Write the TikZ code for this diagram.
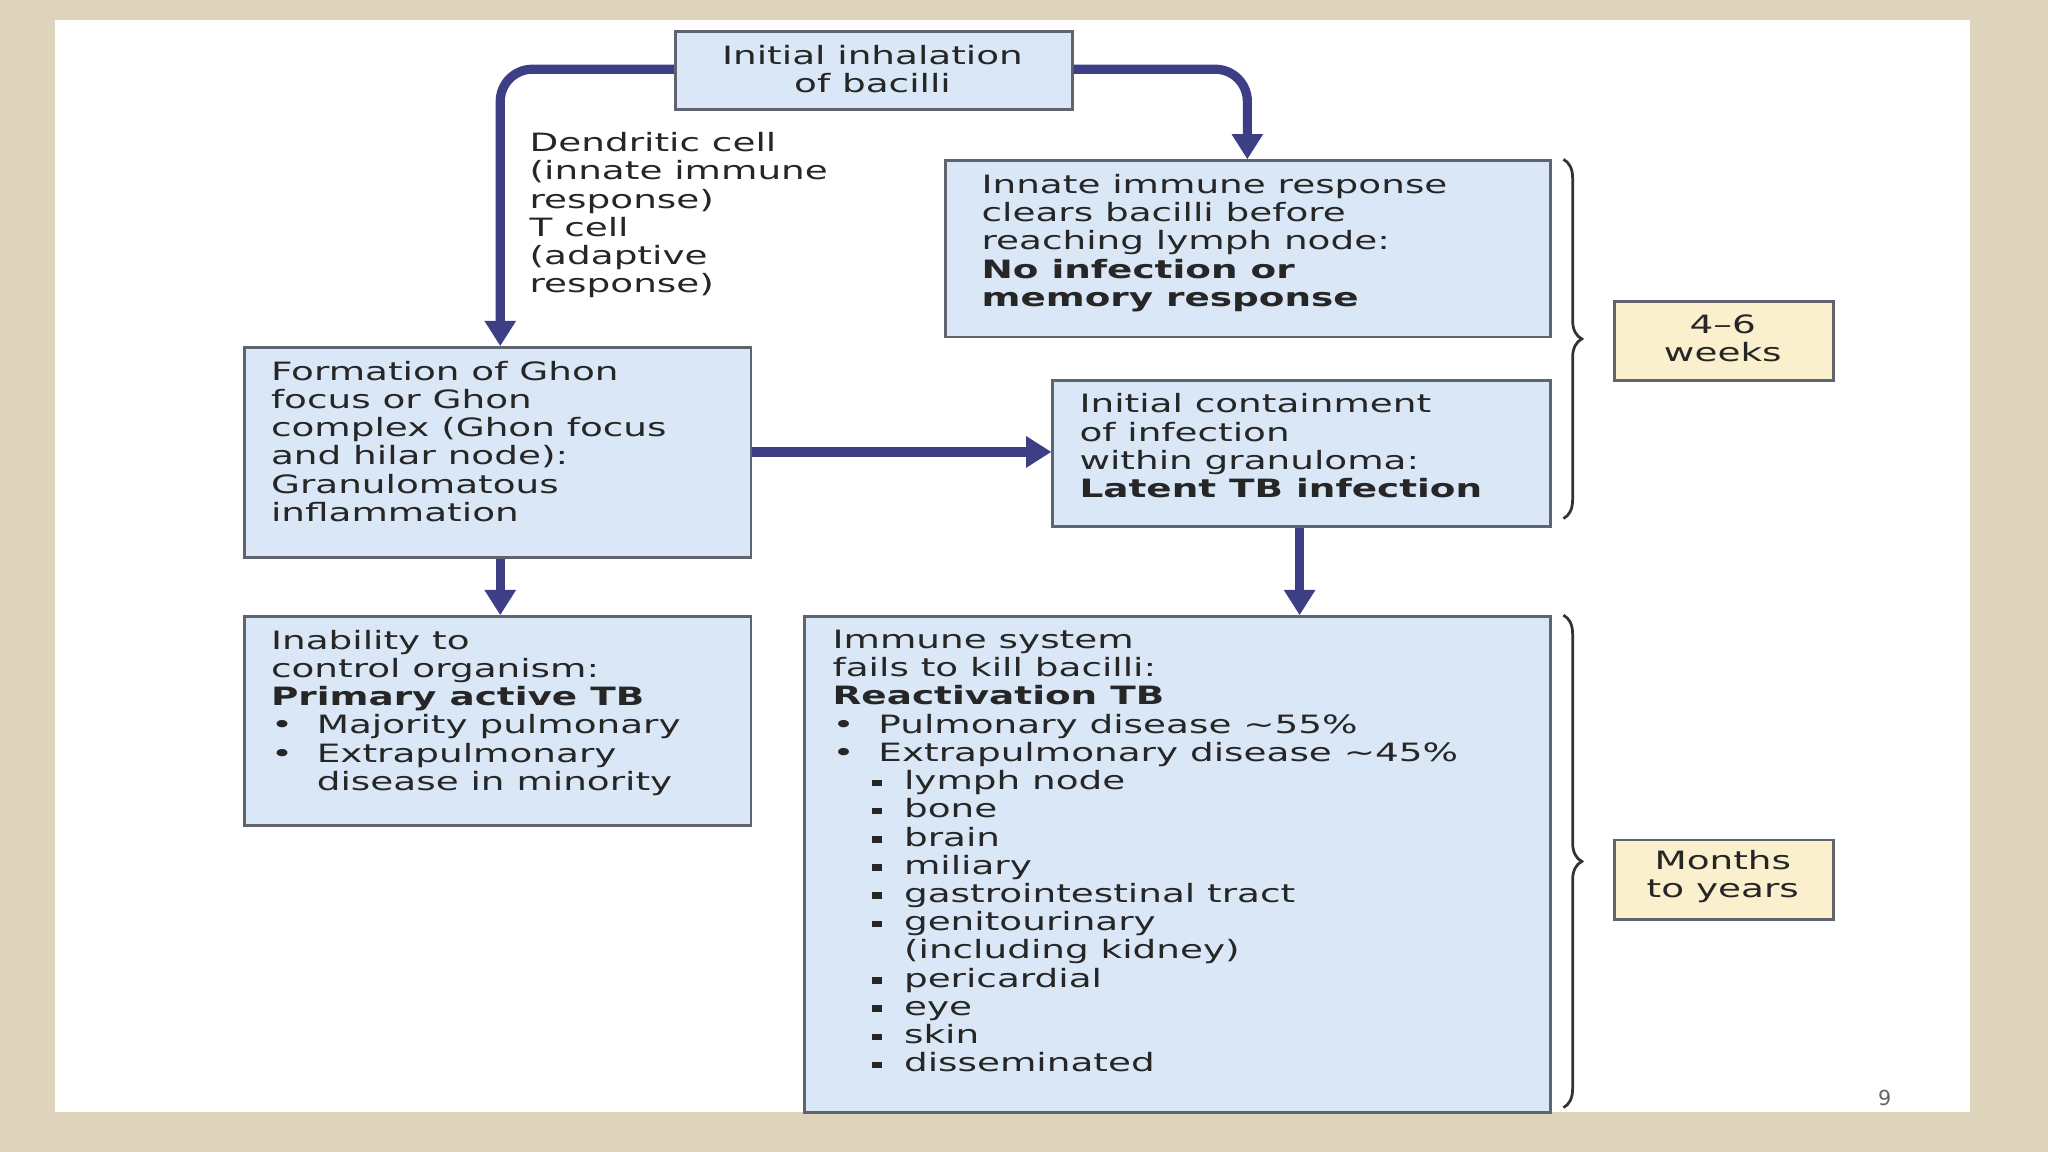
\documentclass[tikz,border=0pt]{standalone}
\usepackage{fontspec}
\setmainfont{DejaVu Sans}
\usetikzlibrary{arrows.meta,decorations.pathreplacing}
\definecolor{bg}{RGB}{222,212,188}
\definecolor{boxf}{RGB}{218,231,246}
\definecolor{boxd}{RGB}{95,100,110}
\definecolor{arr}{RGB}{62,62,135}
\definecolor{tan}{RGB}{250,240,206}
\newcommand{\sq}{\hspace*{1.05em}\raisebox{0.25ex}{\rule{0.26em}{0.26em}}\hspace{0.6em}}
\newcommand{\sqi}{\hspace*{1.05em}\hphantom{\rule{0.26em}{0.26em}}\hspace{0.6em}}
\tikzset{
 box/.style={draw=boxd,line width=1.2pt,fill=boxf,anchor=north west,inner sep=0},
 tbox/.style={draw=boxd,line width=1.2pt,fill=tan,anchor=north west,inner sep=0},
 txt/.style={anchor=north west,align=left,font=\fontsize{11}{12.3}\selectfont,text=black!85,xscale=1.48,transform shape,inner sep=0},
 ctxt/.style={align=center,font=\fontsize{11}{12.3}\selectfont,text=black!85,xscale=1.48,transform shape,inner sep=0},
 ar/.style={draw=arr,line width=4pt,rounded corners=14pt,-{Triangle[width=13pt,length=11pt]}},
 br/.style={draw=black!80,line width=1.2pt,decorate,decoration={brace,amplitude=8pt}}
}
\begin{document}
\begin{tikzpicture}[x=0.02cm,y=-0.02cm]
\fill[bg] (0,0) rectangle (1568,882);
\useasboundingbox (0,0) rectangle (1568,882);
\fill[white] (42,15) rectangle (1508,851);
\node[box,minimum width=6.08cm,minimum height=1.2cm] (init) at (516,23) {};
\node[box,minimum width=9.26cm,minimum height=2.7cm] (innate) at (723,122) {};
\node[box,minimum width=7.76cm,minimum height=3.22cm] (ghon) at (186,265) {};
\node[box,minimum width=7.62cm,minimum height=2.24cm] (cont) at (805,290) {};
\node[box,minimum width=7.76cm,minimum height=3.2cm] (prim) at (186,471) {};
\node[box,minimum width=11.42cm,minimum height=7.6cm] (react) at (615,471) {};
\node[tbox,minimum width=3.36cm,minimum height=1.2cm] (wk) at (1235,230) {};
\node[tbox,minimum width=3.36cm,minimum height=1.22cm] (mo) at (1235,642) {};
\node[ctxt] (tinit) at (668,53) {Initial inhalation\\of bacilli};
\node[txt] (tden) at (405,101) {Dendritic cell\\(innate immune\\response)\\T cell\\(adaptive\\response)};
\node[txt] (tinn) at (751,133) {Innate immune response\\clears bacilli before\\reaching lymph node:\\\textbf{No infection or}\\\textbf{memory response}};
\node[txt] (tgh) at (207,276) {Formation of Ghon\\focus or Ghon\\complex (Ghon focus\\and hilar node):\\Granulomatous\\inflammation};
\node[txt] (tco) at (826,301) {Initial containment\\of infection\\within granuloma:\\\textbf{Latent TB infection}};
\node[txt] (tpr) at (207,482) {Inability to\\control organism:\\\textbf{Primary active TB}\\\textbullet\ \ Majority pulmonary\\\textbullet\ \ Extrapulmonary\\\phantom{\textbullet\ \ }disease in minority};
\node[txt] (tre) at (637,482) {Immune system\\fails to kill bacilli:\\\textbf{Reactivation TB}\\\textbullet\ \ Pulmonary disease \textasciitilde 55\%\\\textbullet\ \ Extrapulmonary disease \textasciitilde 45\%\\
\sq lymph node\\\sq bone\\\sq brain\\\sq miliary\\\sq gastrointestinal tract\\\sq genitourinary\\\sqi (including kidney)\\\sq pericardial\\\sq eye\\\sq skin\\\sq disseminated};
\node[ctxt] (twk) at (1319,259) {4–6\\weeks};
\node[ctxt] (tmo) at (1319,671) {Months\\to years};
\node[font=\fontsize{9}{10}\selectfont,text=black!60] (pg) at (1443,841) {9};
\coordinate (cl) at (383,53);
\coordinate (cr) at (955,53);
\draw[ar] (init.west |- cl) -- (cl) -- (ghon.north -| cl);
\draw[ar] (init.east |- cr) -- (cr) -- (innate.north -| cr);
\draw[ar,rounded corners=0] (ghon.east |- 0,346) -- (cont.west |- 0,346);
\draw[ar,rounded corners=0] (ghon.south -| cl) -- (prim.north -| cl);
\draw[ar,rounded corners=0] (cont.south -| 995,0) -- (react.north -| 995,0);
\draw[br] (1197,122) -- (1197,397);
\draw[br] (1197,471) -- (1197,848);
\end{tikzpicture}
\end{document}
